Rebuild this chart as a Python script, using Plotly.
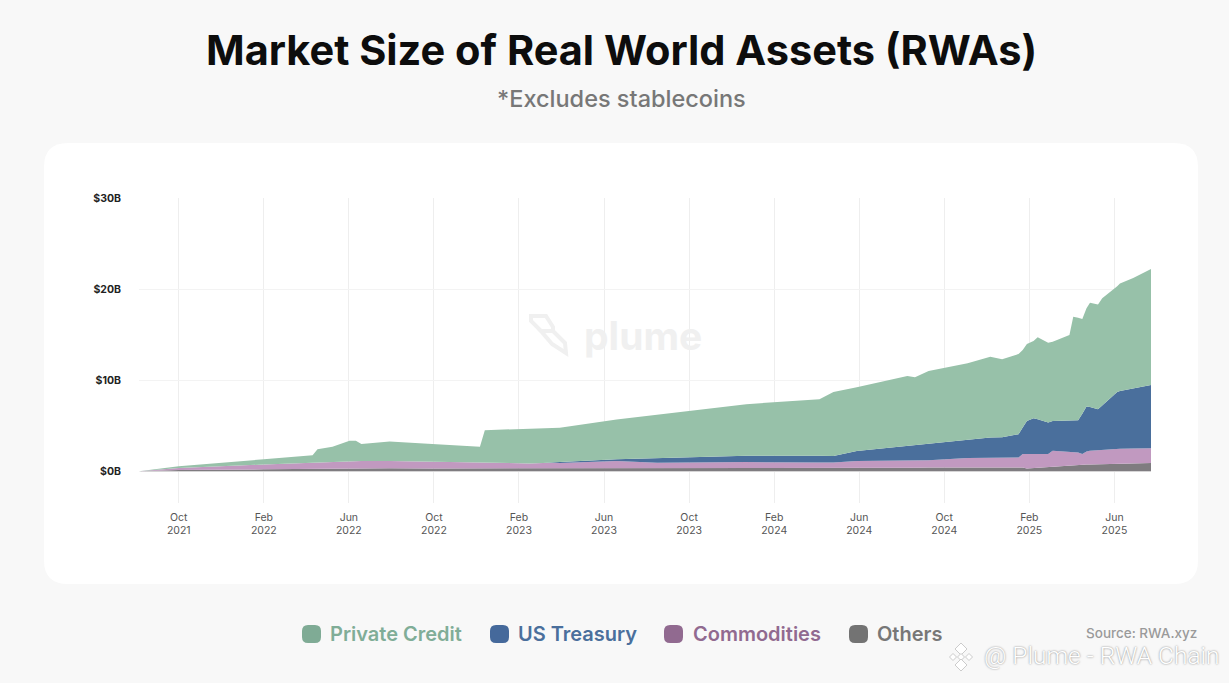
import plotly.graph_objects as go

W, H = 1229, 683

dates = ["2021-08-05", "2021-10-01", "2022-02-01", "2022-04-10", "2022-04-17", "2022-05-08", "2022-06-02",
         "2022-06-11", "2022-06-19", "2022-07-29", "2022-09-29", "2022-12-06", "2022-12-13", "2023-02-16",
         "2023-03-05", "2023-03-29", "2023-06-19", "2023-08-16", "2023-10-02", "2023-12-22", "2024-04-05",
         "2024-04-25", "2024-05-28", "2024-08-09", "2024-08-20", "2024-09-09", "2024-11-04", "2024-12-06",
         "2024-12-23", "2025-01-16", "2025-01-22", "2025-01-28", "2025-02-07", "2025-02-13", "2025-02-28",
         "2025-03-04", "2025-03-28", "2025-04-03", "2025-04-10", "2025-04-16", "2025-04-22", "2025-04-27",
         "2025-05-08", "2025-05-14", "2025-06-05", "2025-06-09", "2025-06-28", "2025-07-23"]

others = [0, .12, .2, .27, .28, .3, .32, .32, .32, .32, .3, .3, .3, .3, .3, .3, .3, .3, .3, .3, .3, .3, .35, .38,
          .38, .4, .42, .44, .45, .47, .4, .3, .35, .4, .5, .55, .66, .67, .68, .7, .72, .73, .76, .78, .85, .85,
          .88, .9]
commodities = [0, .23, .53, .68, .69, .75, .78, .78, .78, .78, .72, .6, .6, .55, .58, .6, .8, .63, .65, .7, .65,
               .65, .75, .77, .77, .8, 1.01, 1.03, 1.02, 1.03, 1.47, 1.57, 1.52, 1.47, 1.37, 1.68, 1.49, 1.43,
               1.37, 1.17, 1.43, 1.5, 1.54, 1.54, 1.6, 1.6, 1.6, 1.6]
us_treasury = [0, 0, 0, 0, 0, 0, 0, 0, 0, 0, 0, 0, 0, 0, 0, .1, .2, .47, .55, .68, .73, .7, 1.1, 1.6, 1.65, 1.8,
               2.02, 2.23, 2.25, 2.55, 2.93, 3.63, 3.93, 3.83, 3.48, 3.27, 3.4, 3.45, 3.55, 4.43, 4.95, 4.82, 4.5,
               4.88, 6.25, 6.35, 6.62, 6.95]
private_credit = [0, .2, .57, .8, 1.43, 1.62, 2.23, 2.25, 1.87, 2.16, 1.95, 1.77, 3.6, 3.85, 3.84, 3.76, 4.38, 4.8,
                  5.13, 5.68, 6.22, 7.05, 7.0, 7.69, 7.5, 8.0, 8.4, 8.86, 8.58, 8.81, 8.5, 8.46, 8.5, 9.0, 8.75,
                  8.7, 9.4, 11.41, 11.25, 10.4, 10.8, 11.45, 11.5, 11.8, 11.6, 11.8, 12.1, 12.75]

x_ticks = ["2021-10-01", "2022-02-01", "2022-06-01", "2022-10-01", "2023-02-01", "2023-06-01",
           "2023-10-01", "2024-02-01", "2024-06-01", "2024-10-01", "2025-02-01", "2025-06-01"]
x_labels = ["Oct<br>2021", "Feb<br>2022", "Jun<br>2022", "Oct<br>2022", "Feb<br>2023", "Jun<br>2023",
            "Oct<br>2023", "Feb<br>2024", "Jun<br>2024", "Oct<br>2024", "Feb<br>2025", "Jun<br>2025"]
y_ticks = [0, 10, 20, 30]
y_labels = ["$0B", "$10B", "$20B", "$30B"]

legend_names = ["Private Credit", "US Treasury", "Commodities", "Others"]
legend_swatch = ["#7fab95", "#45699b", "#916a90", "#737373"]
legend_text = ["#80ad97", "#4a6f9c", "#916a90", "#777777"]


def month_pos(d):
    # source chart spaces months evenly, so position by month number and not by days
    y, m, day = d.split("-")
    return int(y) * 12 + int(m) - 1 + (int(day) - 1) / 30.5


def px(x):
    return x / W


def py(y):
    return 1 - y / H


def rounded(x0, y0, x1, y1, r):
    # rounded box in paper coords, given in pixels
    return (f"M{px(x0 + r)},{py(y0)} L{px(x1 - r)},{py(y0)} Q{px(x1)},{py(y0)} {px(x1)},{py(y0 + r)} "
            f"L{px(x1)},{py(y1 - r)} Q{px(x1)},{py(y1)} {px(x1 - r)},{py(y1)} "
            f"L{px(x0 + r)},{py(y1)} Q{px(x0)},{py(y1)} {px(x0)},{py(y1 - r)} "
            f"L{px(x0)},{py(y0 + r)} Q{px(x0)},{py(y0)} {px(x0 + r)},{py(y0)} Z")


def poly(points):
    return "M" + " L".join(f"{px(a)},{py(b)}" for a, b in points) + " Z"


x_vals = [month_pos(d) for d in dates]

fig = go.Figure()
for name, vals, color in [("Others", others, "#7f7c80"),
                          ("Commodities", commodities, "#c199c0"),
                          ("US Treasury", us_treasury, "#4a6f9c"),
                          ("Private Credit", private_credit, "#97c1a9")]:
    fig.add_trace(go.Scatter(x=x_vals, y=vals, name=name, mode="lines", stackgroup="one",
                             line=dict(width=0, color=color), fillcolor=color, showlegend=False))

shapes = [dict(type="path", xref="paper", yref="paper", layer="below", line_width=0, fillcolor="white",
               path=rounded(44, 143, 1198, 584, 24))]
annotations = []


def text(s, x, y, size, color, anchor="center", family="Inter", weight=400, shadow=None):
    font = dict(size=size, color=color, family=family, weight=weight)
    if shadow:
        font["shadow"] = shadow
    annotations.append(dict(text=s, x=px(x), y=py(y), xref="paper", yref="paper", showarrow=False,
                            xanchor=anchor, yanchor="middle", font=font))


text("Market Size of Real World Assets (RWAs)", 621, 50, 41.5, "#0d0d0d", weight=700)
text("*Excludes stablecoins", 621, 98, 23.5, "#777777", weight=500)
text("Source: RWA.xyz", 1199, 633, 13.5, "#9a9a9a", anchor="right", weight=500)

swatch_x = [302, 490, 664, 849]
label_x = [328, 516, 691, 875]
for name, sx, lx, sc, tc in zip(legend_names, swatch_x, label_x, legend_swatch, legend_text):
    shapes.append(dict(type="path", xref="paper", yref="paper", line_width=0, fillcolor=sc,
                       path=rounded(sx, 625, sx + 19, 643, 6)))
    text(name, lx, 634, 20, tc, anchor="left", weight=600)

# faint plume mark behind the data
text("plume", 643, 335, 39, "#f0f0f0", weight=700)
for pts in [[(531, 316), (546, 316), (553, 327), (553, 331), (541, 331), (531, 321)],
            [(541, 331), (553, 331), (565, 343), (566, 353), (552, 344)]]:
    shapes.append(dict(type="path", xref="paper", yref="paper", layer="below",
                       line=dict(color="#f0f0f0", width=4), fillcolor="rgba(0,0,0,0)", path=poly(pts)))

# site stamp bottom right
text("@ Plume - RWA Chain", 982, 655, 24.5, "#ffffff", anchor="left", family="Roboto", weight=300,
     shadow="0 0 2px #777777")
for cx, cy, r in [(961, 649, 6), (953, 657, 3.5), (969, 657, 3.5), (961, 657, 3.5), (961, 665, 6)]:
    shapes.append(dict(type="path", xref="paper", yref="paper", line=dict(color="#cccccc", width=1),
                       fillcolor="#ffffff", path=poly([(cx, cy - r), (cx + r, cy), (cx, cy + r), (cx - r, cy)])))

fig.update_layout(
    width=W, height=H, margin=dict(l=0, r=0, t=0, b=0),
    paper_bgcolor="#f8f8f8", plot_bgcolor="rgba(0,0,0,0)",
    shapes=shapes, annotations=annotations,
    font=dict(family="Inter"),
    xaxis=dict(domain=[px(139), px(1151)], range=[month_pos("2021-08-05"), month_pos("2025-07-23")],
               tickmode="array", tickvals=[month_pos(d) for d in x_ticks], ticktext=x_labels,
               tickfont=dict(size=10.5, color="#555555"), ticks="", ticklabelstandoff=6, showgrid=True,
               gridcolor="#eeeeee", gridwidth=1, zeroline=False, showline=False, automargin=False),
    yaxis=dict(domain=[py(503), py(198)], range=[-3.5, 30],
               tickmode="array", tickvals=y_ticks, ticktext=y_labels, ticklabelstandoff=17,
               tickfont=dict(size=10.5, color="#222222", weight=700), ticks="", showgrid=True,
               gridcolor="#f3f3f3", gridwidth=1, zeroline=False, showline=False, automargin=False),
)

fig.write_html("out.html", config={"displayModeBar": False}, post_script="document.body.style.margin='0';")
